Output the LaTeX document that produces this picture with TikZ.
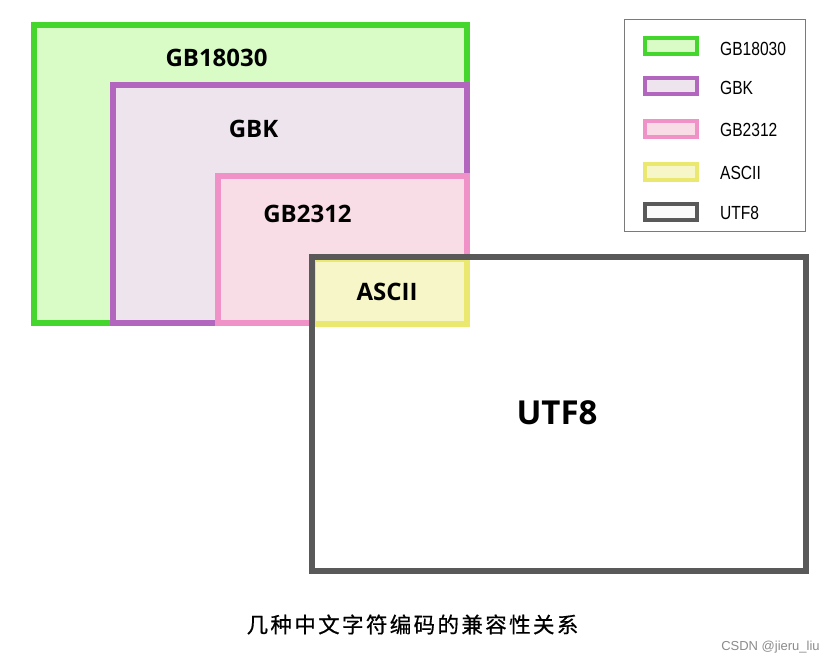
\documentclass[tikz,border=0pt]{standalone}
\usepackage{fontspec}
\setmainfont{Open Sans}
\newfontfamily\boldlab{Open Sans}[BoldFont={* Bold}]
\newfontfamily\legfont[FakeStretch=0.82]{Liberation Sans}
\newfontfamily\cjk[LetterSpace=11,FakeBold=0.6]{Noto Sans CJK SC}
\newfontfamily\wmfont{Liberation Sans}
\definecolor{gStroke}{HTML}{44D62C}
\definecolor{gFill}{HTML}{D9FCC7}
\definecolor{pStroke}{HTML}{B266BD}
\definecolor{pFill}{HTML}{EEE4EE}
\definecolor{kStroke}{HTML}{F092C8}
\definecolor{kFill}{HTML}{F8DDE7}
\definecolor{yStroke}{HTML}{EBE870}
\definecolor{yFill}{HTML}{F6F6C8}
\definecolor{uStroke}{HTML}{595959}
\definecolor{uFill}{HTML}{FAFAFA}
\tikzset{
  setbox/.style={line width=6pt},
  swatch/.style={line width=4pt},
  biglab/.style={anchor=base, inner sep=0pt, font=\boldlab\bfseries\fontsize{24}{27}\selectfont},
  leglab/.style={anchor=base west, inner sep=0pt, font=\legfont\fontsize{19}{22}\selectfont},
}
\begin{document}
\begin{tikzpicture}[x=1pt,y=-1pt]
\useasboundingbox (0,0) rectangle (839,664);
\fill[white] (0,0) rectangle (839,664);
% sets
\draw[setbox, draw=gStroke, fill=gFill] (34,25) rectangle (467,323);
\draw[setbox, draw=pStroke, fill=pFill] (113,85) rectangle (467,323);
\draw[setbox, draw=kStroke, fill=kFill] (218,176) rectangle (467,323);
\draw[setbox, draw=yStroke, fill=yFill] (313,259) rectangle (467,323.5);
\draw[setbox, draw=uStroke] (312,257) rectangle (806,571);
% labels
\node[biglab] (lg18030) at (216.5,66) {GB18030};
\node[biglab] (lgbk) at (253.5,137) {GBK};
\node[biglab] (lgb2312) at (307.5,222) {GB2312};
\node[biglab] (lascii) at (387,300.5) {ASCII};
\node[biglab, font=\boldlab\bfseries\fontsize{33}{37}\selectfont] (lutf) at (557,424) {UTF8};
% legend
\draw[draw=uStroke!80, line width=1pt] (624.5,19.5) rectangle (805.5,231);
\draw[swatch, draw=gStroke, fill=gFill] (645,38) rectangle (697,54);
\draw[swatch, draw=pStroke, fill=pFill] (645,78) rectangle (697,94);
\draw[swatch, draw=kStroke, fill=kFill] (645,121) rectangle (697,137);
\draw[swatch, draw=yStroke, fill=yFill] (645,163.5) rectangle (697,179.5);
\draw[swatch, draw=uStroke, fill=uFill] (645,204) rectangle (697,220);
\node[leglab] (t1) at (720,55) {GB18030};
\node[leglab] (t2) at (720,94) {GBK};
\node[leglab] (t3) at (720,136.5) {GB2312};
\node[leglab] (t4) at (720,179) {ASCII};
\node[leglab] (t5) at (720,219.5) {UTF8};
% caption
\node[inner sep=0pt, font=\cjk\fontsize{21.5}{24}\selectfont] (cap) at (412.5,624.5) {几种中文字符编码的兼容性关系};
\node[inner sep=0pt, text=black!45, font=\wmfont\fontsize{13}{15}\selectfont] (wm) at (770.5,647.5) {CSDN @jieru\_liu};
\end{tikzpicture}
\end{document}
